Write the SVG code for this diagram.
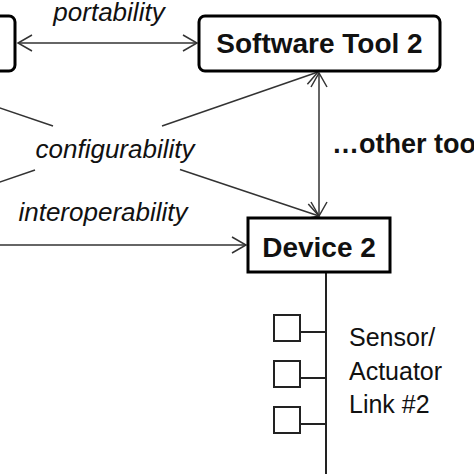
<svg xmlns="http://www.w3.org/2000/svg" width="474" height="474" viewBox="0 0 474 474">
<defs>
<style>
.box{fill:#fff;stroke:#000;stroke-width:3}
.con{fill:none;stroke:#333;stroke-width:1.5}
.lbl{font-family:"Liberation Sans",Arial,sans-serif;font-style:italic;font-size:26px;fill:#111}
.bold{font-family:"Liberation Sans",Arial,sans-serif;font-weight:bold;font-size:28px;fill:#111}
.reg{font-family:"Liberation Sans",Arial,sans-serif;font-size:25px;fill:#111}
</style>
<marker id="arr" viewBox="-16 -10 18 20" refX="0" refY="0" markerWidth="18" markerHeight="20" markerUnits="userSpaceOnUse" orient="auto-start-reverse">
<path d="M-14,-8 L0,0 L-14,8" fill="none" stroke="#333" stroke-width="1.5"/>
</marker>
</defs>
<rect width="474" height="474" fill="#fff"/>
<g id="connectors">
<line class="con" x1="18" y1="43" x2="197" y2="43" marker-start="url(#arr)" marker-end="url(#arr)"/>
<line class="con" x1="319" y1="73" x2="319" y2="216" marker-start="url(#arr)" marker-end="url(#arr)"/>
<polyline class="con" points="-10,104.6 53,126"/>
<line class="con" x1="180" y1="169.5" x2="319" y2="216" marker-end="url(#arr)"/>
<polyline class="con" points="-10,185.5 35,170"/>
<line class="con" x1="162" y1="126" x2="318" y2="72" marker-end="url(#arr)"/>
<line class="con" x1="-5" y1="245" x2="246" y2="245" marker-end="url(#arr)"/>
<line class="con" x1="326" y1="273" x2="326" y2="474" style="stroke:#222;stroke-width:2"/>
<line class="con" x1="300" y1="332" x2="326" y2="332" style="stroke:#222;stroke-width:2"/>
<line class="con" x1="300" y1="378" x2="326" y2="378" style="stroke:#222;stroke-width:2"/>
<line class="con" x1="300" y1="424" x2="326" y2="424" style="stroke:#222;stroke-width:2"/>
</g>
<g id="tool1">
<rect class="box" x="-30" y="16" width="45" height="55" rx="6"/>
</g>
<g id="tool2">
<rect class="box" x="199" y="16" width="241" height="55" rx="6"/>
<text class="bold" x="319.5" y="53" text-anchor="middle">Software Tool 2</text>
</g>
<g id="device2">
<rect class="box" x="248" y="218" width="142" height="54"/>
<text class="bold" x="319" y="257" text-anchor="middle">Device 2</text>
</g>
<g id="sensors">
<rect x="274" y="315" width="26" height="26" fill="#fff" stroke="#222" stroke-width="2"/>
<rect x="274" y="361" width="26" height="26" fill="#fff" stroke="#222" stroke-width="2"/>
<rect x="274" y="407" width="26" height="26" fill="#fff" stroke="#222" stroke-width="2"/>
</g>
<g id="labels">
<text class="lbl" x="109" y="21" text-anchor="middle">portability</text>
<text class="lbl" x="115" y="158" text-anchor="middle">configurability</text>
<text class="lbl" x="103" y="221" text-anchor="middle">interoperability</text>
<text class="bold" x="332" y="153" style="font-size:27px">…other too</text>
<text class="reg" x="349" y="346">Sensor/</text>
<text class="reg" x="349" y="380">Actuator</text>
<text class="reg" x="349" y="413">Link #2</text>
</g>
</svg>
